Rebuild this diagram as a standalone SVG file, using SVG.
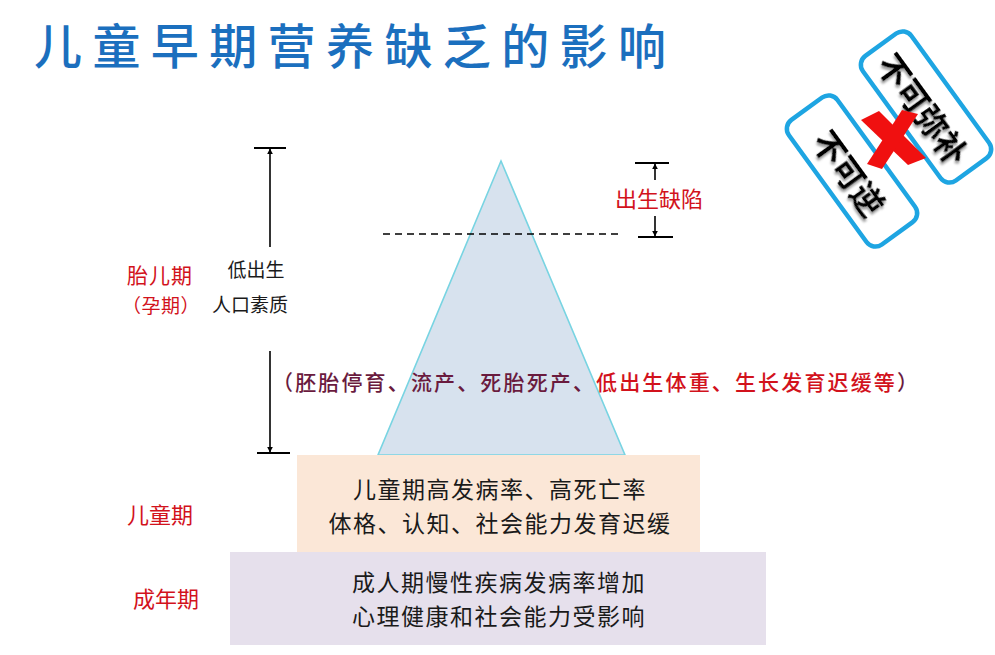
<svg xmlns="http://www.w3.org/2000/svg" width="995" height="655" viewBox="0 0 995 655">
<style>
.cjk{font-family:"Noto Sans CJK SC","Noto Sans",sans-serif;}
.red{fill:#d2121c;}
.blk{fill:#1a1a1a;}
.mid{text-anchor:middle;dominant-baseline:central;}
.bar{stroke:#000;stroke-width:2;}
.ln{stroke:#000;stroke-width:1.6;fill:none;}
.box{fill:#fff;stroke:#1ea5e2;stroke-width:4.5;}
.btxt{font-size:32px;font-weight:bold;fill:#000;}
.body{font-size:23px;letter-spacing:1.5px;}
</style>
<defs>
<marker id="ah" viewBox="0 0 10 10" refX="9" refY="5" markerWidth="6" markerHeight="6" orient="auto" markerUnits="userSpaceOnUse">
<path d="M0,0 L10,5 L0,10 z" fill="#000"/>
</marker>
<filter id="sh" x="-20%" y="-20%" width="140%" height="140%">
<feDropShadow dx="2" dy="2" stdDeviation="1" flood-color="#888" flood-opacity="0.8"/>
</filter>
</defs>

<g id="title">
<text class="cjk" x="34" y="43" dominant-baseline="central" font-size="48" font-weight="500" fill="#1b6fbe" textLength="632" lengthAdjust="spacing">儿童早期营养缺乏的影响</text>
</g>

<g id="pyramid">
<polygon points="501,161 378,455 625,455" fill="#d7e2ee" stroke="#78d4e2" stroke-width="1.6"/>
</g>

<g id="connectors">
<line x1="383" y1="234" x2="621" y2="234" stroke="#000" stroke-width="1.6" stroke-dasharray="7,5"/>
<line class="bar" x1="254" y1="148" x2="286" y2="148"/>
<line class="ln" x1="270" y1="247" x2="270" y2="149" marker-end="url(#ah)"/>
<line class="ln" x1="270" y1="351" x2="270" y2="452" marker-end="url(#ah)"/>
<line class="bar" x1="257" y1="453" x2="290" y2="453"/>
<line class="bar" x1="635" y1="163" x2="669" y2="163"/>
<line class="ln" x1="655" y1="180" x2="655" y2="164" marker-end="url(#ah)"/>
<line class="ln" x1="655" y1="216" x2="655" y2="236" marker-end="url(#ah)"/>
<line class="bar" x1="638" y1="237" x2="673" y2="237"/>
</g>

<g id="label-defect">
<text class="cjk red mid" x="659" y="197" font-size="22">出生缺陷</text>
</g>

<g id="label-fetal">
<text class="cjk red mid" x="160" y="274" font-size="21" letter-spacing="1">胎儿期</text>
<text class="cjk red mid" x="161" y="304" font-size="19" letter-spacing="0.5">（孕期）</text>
</g>

<g id="label-quality">
<text class="cjk blk mid" x="256" y="268" font-size="19">低出生</text>
<text class="cjk blk mid" x="250" y="303" font-size="19">人口素质</text>
</g>

<g id="label-outcomes">
<text class="cjk" x="272" y="381" dominant-baseline="central" font-size="21" font-weight="500" textLength="646" lengthAdjust="spacing"><tspan fill="#6a1b3e">（胚胎停育、流产、死胎死产、</tspan><tspan fill="#d2121c">低出生体重、生长发育迟缓等</tspan><tspan fill="#6a1b3e">）</tspan></text>
</g>

<g id="childhood">
<rect x="297" y="455" width="403" height="97" fill="#fbe7d7"/>
<text class="cjk blk mid body" x="500" y="488">儿童期高发病率、高死亡率</text>
<text class="cjk blk mid body" x="500" y="522">体格、认知、社会能力发育迟缓</text>
</g>

<g id="adulthood">
<rect x="230" y="552" width="536" height="93" fill="#e6e0ec"/>
<text class="cjk blk mid body" x="499" y="581">成人期慢性疾病发病率增加</text>
<text class="cjk blk mid body" x="499" y="615">心理健康和社会能力受影响</text>
</g>

<g id="label-child">
<text class="cjk red mid" x="160" y="513" font-size="22">儿童期</text>
</g>
<g id="label-adult">
<text class="cjk red mid" x="166" y="597" font-size="22">成年期</text>
</g>

<g id="box-irreversible" transform="translate(852,171) rotate(54)">
<rect class="box" x="-77" y="-30" width="154" height="60" rx="11"/>
<text class="cjk btxt mid" x="0" y="2" filter="url(#sh)">不可逆</text>
</g>

<g id="box-irreparable" transform="translate(926,107) rotate(54)">
<rect class="box" x="-77" y="-30" width="154" height="60" rx="11"/>
<text class="cjk btxt mid" x="0" y="2" filter="url(#sh)">不可弥补</text>
</g>

<g id="cross">
<path d="M861,120 L879,111 L926,158 L908,165 Z" fill="#f01010"/>
<path d="M902,110 L918,114 L882,169 L867,164 Z" fill="#f01010"/>
</g>
</svg>
